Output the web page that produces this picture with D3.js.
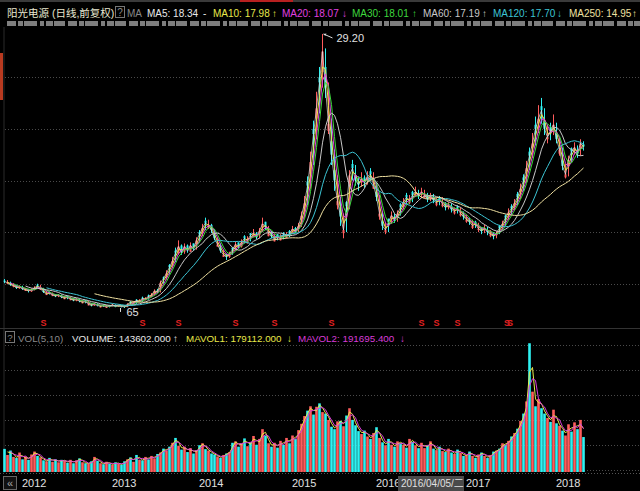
<!DOCTYPE html>
<html><head><meta charset="utf-8">
<script src="https://cdn.jsdelivr.net/npm/d3@7"></script>
<style>
html,body{margin:0;padding:0;background:#000;overflow:hidden;}
svg{display:block;}
text{font-family:"Liberation Sans","Noto Sans CJK SC",sans-serif;}
</style></head><body>
<svg id="c" width="640" height="491"></svg>
<script>
// ---------- DATA (one bar ≈ 8 trading days, Nov 2011 – Mar 2018) ----------
const opens = [
5.3,5.0,5.1,4.7,4.8,4.55,4.65,4.3,4.45,4.25,
4.45,4.9,4.4,4.35,3.9,4.2,3.8,3.95,3.8,3.85,
3.5,3.8,3.45,3.5,3.35,3.4,3.1,3.4,2.95,3.0,
2.9,3.0,2.75,2.95,2.7,2.9,2.85,2.85,2.78,2.9,
2.85,2.8,3.25,3.0,3.45,3.2,3.65,3.4,3.85,3.75,
4.1,4.35,4.7,5.6,5.6,6.8,6.8,8.2,7.9,8.7,
8.1,8.7,8.1,8.9,8.8,10.0,9.9,11.1,10.4,10.7,
9.9,8.6,8.6,7.6,7.9,7.6,8.5,8.4,9.0,8.6,
9.6,8.9,9.9,9.5,9.9,9.7,10.4,11.0,9.6,10.0,
9.1,9.8,9.2,9.9,9.4,10.1,10.0,10.4,10.3,11.2,
12.0,14.9,15.6,20.0,21.0,25.0,25.5,26.0,19.8,18.8,
16.0,12.6,12.4,9.9,12.9,14.8,16.6,15.4,14.9,14.8,
15.3,15.0,15.9,14.2,13.9,11.5,11.0,10.0,11.3,11.2,
11.5,11.5,12.7,12.5,13.6,12.8,13.9,13.6,13.8,13.6,
13.3,13.5,13.2,13.4,12.6,13.4,12.5,12.7,12.4,12.5,
11.8,12.5,11.6,11.7,11.0,11.2,10.4,11.0,10.2,10.3,
10.2,10.2,9.6,9.8,9.7,10.6,10.6,11.6,11.7,12.5,
12.4,13.7,13.9,15.3,15.9,17.8,18.2,20.4,20.5,22.2,
20.6,19.0,20.2,20.0,19.6,17.6,16.9,15.3,16.6,18.1,
17.9,17.9,18.2,18.5];
const closes = [
5.2,5.1,4.9,4.8,4.6,4.7,4.5,4.4,4.3,4.4,
4.6,4.8,4.5,4.2,4.0,4.1,3.9,3.8,3.9,3.7,
3.6,3.7,3.5,3.4,3.5,3.3,3.2,3.3,3.0,2.9,
3.05,2.9,2.8,2.9,2.75,2.85,2.95,2.8,2.9,2.8,
2.75,3.0,3.2,3.1,3.4,3.3,3.6,3.5,3.8,3.9,
4.3,4.2,5.1,5.5,6.0,6.6,7.2,8.0,8.6,8.0,
8.6,8.2,8.7,8.4,9.2,9.8,10.4,10.9,10.6,10.2,
9.4,8.8,8.2,7.8,7.6,7.9,8.3,8.8,8.6,9.0,
9.4,9.2,9.7,9.9,9.5,10.1,10.8,10.5,9.9,9.6,
9.3,9.6,9.4,9.8,9.6,9.9,10.3,10.1,10.6,11.6,
12.8,14.5,16.8,19.5,22.0,24.5,27.5,24.0,20.5,17.5,
15.0,13.0,11.5,10.2,12.5,15.5,16.2,15.0,14.6,15.2,
14.8,15.4,15.6,14.6,13.4,11.8,10.6,10.2,11.0,11.6,
11.2,11.8,12.4,12.9,13.4,13.0,13.6,13.9,13.5,13.9,
13.6,13.2,13.5,13.1,12.8,13.2,12.7,12.4,12.6,12.2,
12.0,12.3,11.8,11.5,11.2,11.0,10.6,10.8,10.3,10.1,
10.4,10.0,9.8,9.6,9.9,10.4,10.8,11.4,11.9,12.3,
12.8,13.4,14.2,15.0,16.2,17.4,18.6,20.0,21.0,21.8,
20.0,19.2,19.8,20.4,19.0,18.0,16.4,15.6,17.0,17.8,
18.2,17.6,18.6,18.3];
const highs = [
5.45,5.35,5.2,5.05,4.9,4.85,4.8,4.6,4.5,4.55,
4.75,5.0,4.9,4.6,4.3,4.25,4.15,4.0,4.0,3.95,
3.8,3.85,3.75,3.6,3.6,3.55,3.4,3.4,3.35,3.1,
3.15,3.1,2.95,3.0,2.95,2.95,3.05,3.0,2.98,2.95,
2.9,3.1,3.3,3.3,3.5,3.5,3.75,3.7,3.95,4.1,
4.45,4.5,5.3,5.7,6.3,6.9,7.6,8.5,9.2,8.8,
8.9,8.8,9.0,8.9,9.5,10.2,10.8,11.4,11.2,10.8,
10.3,9.5,8.9,8.3,7.9,8.1,8.5,9.1,9.0,9.3,
9.7,9.6,9.9,10.3,10.0,10.4,11.4,11.0,10.6,10.1,
9.8,9.8,9.8,10.0,10.0,10.2,10.6,10.5,10.9,12.0,
13.5,15.4,17.8,20.8,23.6,26.0,29.2,27.8,24.5,21.0,
18.0,15.5,13.4,11.8,13.0,16.0,17.0,16.5,15.4,15.8,
15.5,15.9,16.2,15.8,14.8,13.6,12.0,10.9,11.3,12.0,
11.8,12.1,12.8,13.3,13.8,13.6,14.0,14.4,14.1,14.3,
14.1,13.8,13.8,13.7,13.3,13.5,13.4,12.9,12.9,12.8,
12.4,12.6,12.4,12.0,11.7,11.4,11.2,11.1,10.9,10.5,
10.7,10.5,10.2,10.0,10.1,10.7,11.1,11.7,12.3,12.7,
13.2,13.9,14.7,15.6,16.9,18.2,19.6,21.2,22.3,23.0,
22.0,20.4,20.6,21.4,20.6,19.2,18.2,16.6,17.4,18.2,
18.7,18.4,19.0,18.8];
const lows = [
5.05,4.95,4.8,4.65,4.5,4.5,4.4,4.3,4.15,4.2,
4.35,4.55,4.4,4.1,3.9,3.95,3.8,3.7,3.7,3.6,
3.5,3.5,3.4,3.3,3.3,3.2,3.1,3.1,2.9,2.8,
2.85,2.8,2.7,2.75,2.7,2.7,2.8,2.72,2.75,2.7,
2.65,2.72,2.95,3.0,3.05,3.2,3.25,3.4,3.45,3.7,
3.85,4.1,4.15,5.0,5.4,5.9,6.5,7.1,7.8,7.8,
7.9,8.0,8.1,8.2,8.3,9.0,9.6,10.2,10.3,9.9,
9.2,8.6,8.0,7.6,7.3,7.5,7.8,8.2,8.4,8.5,
8.9,9.0,9.1,9.5,9.3,9.4,10.0,10.2,9.7,9.4,
9.1,9.2,9.2,9.3,9.4,9.5,9.8,9.9,10.0,10.5,
11.4,12.6,14.2,16.5,19.0,21.5,24.0,23.0,19.5,16.5,
14.0,12.2,10.6,9.4,10.0,12.2,15.0,14.5,14.0,14.4,
14.3,14.6,15.0,14.2,13.0,11.2,10.2,9.8,10.0,10.8,
10.9,11.0,11.6,12.2,12.7,12.7,12.9,13.4,13.2,13.3,
13.3,12.9,13.0,12.8,12.5,12.6,12.4,12.1,12.2,11.9,
11.7,11.8,11.5,11.2,10.9,10.7,10.3,10.4,10.0,9.8,
9.9,9.7,9.5,9.3,9.4,9.8,10.2,10.6,11.2,11.7,
12.1,12.6,13.2,14.0,14.8,16.0,17.2,18.4,19.6,20.5,
19.4,18.6,18.9,19.4,18.6,17.4,16.0,15.2,15.4,16.8,
17.5,17.2,17.4,17.9];
// volume, thousand lots
const volumes = [
95,70,88,62,58,80,52,64,50,72,
84,66,60,48,44,58,42,52,40,50,
46,38,50,36,48,56,40,36,34,44,
62,46,36,32,42,34,30,40,33,30,
44,52,60,42,70,50,48,62,52,66,
56,74,80,96,88,104,120,140,108,92,
104,82,98,76,90,110,118,94,88,76,
72,64,58,70,76,82,120,126,104,118,
138,106,122,148,112,136,176,150,118,104,
120,100,128,112,140,118,150,136,172,198,
230,252,270,236,268,282,246,240,214,186,
176,208,210,188,232,262,214,192,168,156,
170,146,136,160,184,140,122,110,136,112,
104,126,118,112,100,136,124,110,98,120,
98,110,126,96,90,104,86,82,96,80,
74,92,78,66,70,84,66,58,72,80,
66,58,70,84,88,96,118,112,128,146,
160,178,210,240,290,529,330,270,300,262,
240,222,206,256,200,190,170,150,196,166,
204,176,214,143.6];
const yearLabels = ["2012","2013","2014","2015","2016","2017","2018"];
const yearIndex = [6,36,65,96,124,154,184];
const signalIndex = [13,46,58,77,90,109,139,144,151,167];
const signalCount = [1,1,1,1,1,1,1,1,1,2];
const maNames = ["MA5","MA10","MA20","MA30","MA60","MA120","MA250"];
const maValues = ["18.34","17.98","18.07","18.01","17.19","17.70","14.95"];
const maArrows = ["-","↑","↓","↑","↑","↓","↑"];
const maBars = [1,2,3,4,8,15,31];
const volNames = ["VOLUME","MAVOL1","MAVOL2"];
const volValues = ["143602.000","179112.000","191695.400"];
const volArrows = ["↑","↓","↓"];
const volMaBars = [2,3];
const title = "阳光电源 (日线,前复权)";
const cursorDate = "2016/04/05/二";

// ---------- LAYOUT / STYLE ----------
const svg = d3.select("#c");
const N = closes.length;
const x = d3.scaleLinear().domain([0, N - 1]).range([4.5, 4.5 + 3 * (N - 1)]);
const y = d3.scaleLinear().domain([5, 30]).range([283.7, 25.7]);
const yv = d3.scaleLinear().domain([0, 530]).range([472, 343]);
const UP = "#ff5c5c", DOWN = "#2ef2f2";
const maColors = ["#e8e8e8","#e8e84a","#e040e0","#3ed83e","#c8c8c8","#3cc4d4","#efe0a0"];
const volColors = ["#e8e8e8","#e8e84a","#d83cd8"];

svg.append("rect").attr("width",640).attr("height",491).attr("fill","#000");

// top strip
svg.append("rect").attr("x",0).attr("y",0).attr("width",640).attr("height",2).attr("fill","#3a3a3a");
svg.append("rect").attr("x",240).attr("y",0).attr("width",53).attr("height",2).attr("fill","#b82020");
// left edge marker
svg.append("rect").attr("x",0).attr("y",53).attr("width",3).attr("height",47).attr("fill","#b83a20");
svg.append("line").attr("x1",4).attr("x2",4).attr("y1",27).attr("y2",473).attr("stroke","#2a2a2a");

// top "info row" under header
svg.append("line").attr("x1",7).attr("x2",640).attr("y1",23.5).attr("y2",23.5)
  .attr("stroke","#a8a8a8").attr("stroke-width",5).attr("stroke-dasharray","9,2,5,1,13,3,4,2,7,1,11,3")
  .attr("opacity",0.75);

// grids
const grid = svg.append("g").attr("stroke","#4a4a4a").attr("stroke-dasharray","1,2");
[5,10,15,20,25].forEach(v => grid.append("line").attr("x1",5).attr("x2",640)
  .attr("y1",Math.round(y(v))+0.5).attr("y2",Math.round(y(v))+0.5));
svg.append("line").attr("x1",0).attr("x2",640).attr("y1",328.5).attr("y2",328.5).attr("stroke","#333");
d3.range(345, 471, 25).forEach(yy => grid.append("line").attr("x1",5).attr("x2",640)
  .attr("y1",yy+0.5).attr("y2",yy+0.5));
svg.append("line").attr("x1",0).attr("x2",640).attr("y1",473.5).attr("y2",473.5)
  .attr("stroke","#555").attr("stroke-dasharray","1,2");

// bars data
const bars = closes.map((c,i) => ({
  i, o: opens[i], c, h: Math.max(highs[i], opens[i], c), l: Math.min(lows[i], opens[i], c), v: volumes[i]
}));
const colorOf = d => d.c >= d.o ? UP : DOWN;

// volume bars
svg.append("g").selectAll("rect").data(bars).join("rect")
  .attr("x", d => x(d.i) - 1.3).attr("width", 2.6)
  .attr("y", d => yv(d.v)).attr("height", d => yv(0) - yv(d.v))
  .attr("fill", colorOf);

function ma(arr, p){ return arr.map((_,i) => i < p-1 ? null : d3.mean(arr.slice(i-p+1, i+1))); }
volMaBars.forEach((p,k) => {
  const m = ma(volumes, p);
  svg.append("path").datum(m.map((v,i)=>[i,v]).filter(d=>d[1]!==null))
    .attr("fill","none").attr("stroke", volColors[k+1]).attr("stroke-width",1)
    .attr("d", d3.line().x(d=>x(d[0])).y(d=>yv(d[1])));
});

// candles
const cg = svg.append("g");
cg.selectAll("line").data(bars).join("line")
  .attr("x1", d => x(d.i)).attr("x2", d => x(d.i))
  .attr("y1", d => y(d.h)).attr("y2", d => y(d.l))
  .attr("stroke", colorOf).attr("stroke-width",1);
cg.selectAll("rect").data(bars).join("rect")
  .attr("x", d => x(d.i) - 1).attr("width", 2)
  .attr("y", d => y(Math.max(d.o,d.c)))
  .attr("height", d => Math.max(1, Math.abs(y(d.o) - y(d.c))))
  .attr("fill", colorOf);

// price MAs
maBars.forEach((p,k) => {
  const m = ma(closes, p);
  svg.append("path").datum(m.map((v,i)=>[i,v]).filter(d=>d[1]!==null))
    .attr("fill","none").attr("stroke", maColors[k]).attr("stroke-width",1)
    .attr("opacity", k===0 ? 0.7 : 1)
    .attr("d", d3.line().x(d=>x(d[0])).y(d=>y(d[1])));
});

// peak / low annotations
const hiIdx = d3.maxIndex(highs), loIdx = d3.minIndex(lows);
const px = x(hiIdx), py = y(highs[hiIdx]);
svg.append("path").attr("d", `M${px+1},${py} L${px+10},${py+4}`).attr("stroke","#ddd").attr("fill","none");
svg.append("path").attr("d", `M${px+1},${py} l3,-0.5 l-1.3,2.6 z`).attr("fill","#ddd");
svg.append("text").attr("x", px+14).attr("y", py+8).attr("fill","#e0e0e0")
  .attr("font-size",11).text(d3.format(".2f")(highs[hiIdx]));
const lx = x(loIdx), ly = y(lows[loIdx]);
svg.append("path").attr("d", `M${lx-4},${ly+4} l0,-4`).attr("stroke","#ddd");
svg.append("text").attr("x", lx+2).attr("y", ly+8).attr("fill","#e0e0e0")
  .attr("font-size",11).text(d3.format(".2f")(lows[loIdx]).slice(2));

// signal markers
svg.append("g").selectAll("text").data(signalIndex).join("text")
  .attr("x", (d,k) => x(d) + (signalCount[k] - 1) * 1.5).attr("y", 326).attr("text-anchor","middle")
  .attr("fill","#e02020").attr("font-size",9).attr("font-weight","bold")
  .attr("letter-spacing", (d,k) => signalCount[k] > 1 ? -3 : 0)
  .text((d,k) => "S".repeat(signalCount[k]));

// header
const hdr = svg.append("g").attr("font-size",10);
hdr.append("text").attr("x",7).attr("y",17).attr("fill","#e8e8d0").attr("font-size",10.5)
  .attr("font-family","Noto Sans CJK SC").text(title);
hdr.append("rect").attr("x",115.5).attr("y",6.5).attr("width",9).attr("height",11).attr("fill","none").attr("stroke","#777");
hdr.append("text").attr("x",120).attr("y",16).attr("text-anchor","middle").attr("fill","#888").text("?");
hdr.append("text").attr("x",127).attr("y",17).attr("fill","#888").text("MA");
const maX = [147,213,282,352,423,493,569];
const arX = [203,272,342,412,482,557,632];
maNames.forEach((n,k) => {
  hdr.append("text").attr("x",maX[k]).attr("y",17).attr("fill",maColors[k]).text(`${n}: ${maValues[k]}`);
  hdr.append("text").attr("x",arX[k]).attr("y",17).attr("fill",maColors[k]).text(maArrows[k]);
});

// volume header
const vh = svg.append("g").attr("font-size",9.8);
vh.append("rect").attr("x",5.5).attr("y",331.5).attr("width",9).attr("height",11).attr("fill","none").attr("stroke","#777");
vh.append("text").attr("x",10).attr("y",341).attr("text-anchor","middle").attr("fill","#888").text("?");
vh.append("text").attr("x",18).attr("y",342).attr("fill","#8a8a8a").text("VOL(5,10)");
const vX = [72,186,298], vaX = [173,287,400];
volNames.forEach((n,k) => {
  vh.append("text").attr("x",vX[k]).attr("y",342).attr("fill",volColors[k]).text(`${n}: ${volValues[k]}`);
  vh.append("text").attr("x",vaX[k]).attr("y",342).attr("fill",volColors[k]).text(volArrows[k]);
});

// x axis
const ax = svg.append("g").attr("font-size",11).attr("fill","#e0e0e0");
yearLabels.forEach((t,k) => ax.append("text").attr("x", x(yearIndex[k]) - 0.5).attr("y",487).text(t));
svg.append("rect").attr("x",3.5).attr("y",476.5).attr("width",13).attr("height",13).attr("fill","#111").attr("stroke","#666");
svg.append("text").attr("x",10).attr("y",487).attr("text-anchor","middle").attr("fill","#aaa").attr("font-size",11).text("«");
svg.append("rect").attr("x",398).attr("y",476).attr("width",66).attr("height",15).attr("fill","#4a4a4a");
svg.append("text").attr("x",401).attr("y",487).attr("fill","#e0e0e0").attr("font-size",10).text(cursorDate);
</script>
</body></html>
